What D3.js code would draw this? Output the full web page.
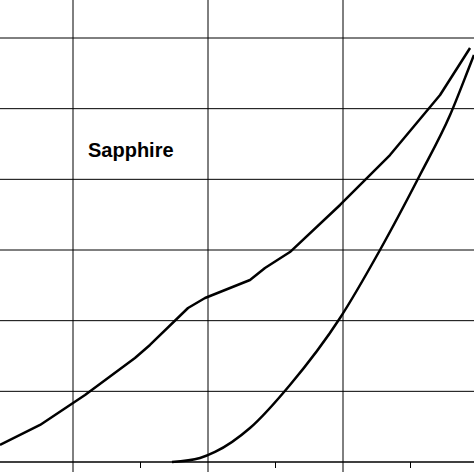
<!DOCTYPE html>
<html>
<head>
<meta charset="utf-8">
<script src="https://cdn.jsdelivr.net/npm/d3@7"></script>
<style>
	body { margin:0; background:#fff; }
	svg { display:block; }
</style>
</head>
<body>
<div id="chart"></div>
<script>
// data (x in axis units, y in axis units)
var loadX = [0.459,0.756,1.089,1.459,1.570,1.852,1.978,2.311,2.422,2.607,2.978,3.348,3.719,3.941];
var loadY = [0.241,0.524,0.948,1.472,1.656,2.179,2.321,2.575,2.745,2.971,3.637,4.344,5.193,5.858];
var unloadX = [1.733,1.941,2.052,2.311,2.607,2.978,3.274,3.570,3.793,3.941,3.970];
var unloadY = [0.000,0.057,0.142,0.481,1.090,2.038,3.000,4.061,4.910,5.618,5.759];
var xGrid = [1,2,3];
var xMinor = [1.5,2.5,3.5];
var yGrid = [1,2,3,4,5,6];

var W = 474, H = 474;
var svg = d3.select('#chart').append('svg').attr('width',W).attr('height',H);

var x = d3.scaleLinear().domain([0,4]).range([-62,478]);
var y = d3.scaleLinear().domain([0,6]).range([462,38]);

// grid
svg.selectAll('.vg').data(xGrid).enter().append('line')
	.attr('x1',function(d){return x(d);}).attr('x2',function(d){return x(d);})
	.attr('y1',0).attr('y2',y(0)).attr('stroke','#000').attr('stroke-width',1);
svg.selectAll('.hg').data(yGrid).enter().append('line')
	.attr('x1',0).attr('x2',W)
	.attr('y1',function(d){return y(d);}).attr('y2',function(d){return y(d);})
	.attr('stroke','#000').attr('stroke-width',1);

// bottom axis
svg.append('line').attr('x1',0).attr('x2',W).attr('y1',y(0)).attr('y2',y(0))
	.attr('stroke','#000').attr('stroke-width',1.5);
svg.selectAll('.bt').data(xGrid).enter().append('line')
	.attr('x1',function(d){return x(d);}).attr('x2',function(d){return x(d);})
	.attr('y1',y(0)).attr('y2',y(0)+10).attr('stroke','#000');
svg.selectAll('.bm').data(xMinor).enter().append('line')
	.attr('x1',function(d){return x(d);}).attr('x2',function(d){return x(d);})
	.attr('y1',y(0)).attr('y2',y(0)+6).attr('stroke','#000');

// curves
var lineLoad = d3.line().x(function(d){return x(d[0]);}).y(function(d){return y(d[1]);});
var lineUnload = d3.line().x(function(d){return x(d[0]);}).y(function(d){return y(d[1]);})
	.curve(d3.curveMonotoneX);
svg.append('path').datum(d3.zip(loadX,loadY)).attr('d',lineLoad)
	.attr('fill','none').attr('stroke','#000').attr('stroke-width',2.5).attr('stroke-linejoin','round');
svg.append('path').datum(d3.zip(unloadX,unloadY)).attr('d',lineUnload)
	.attr('fill','none').attr('stroke','#000').attr('stroke-width',2.5);

svg.append('text').attr('x',88).attr('y',157).text('Sapphire')
	.attr('font-family','Liberation Sans, Arial, sans-serif')
	.attr('font-weight','bold').attr('font-size',20);
</script>
</body>
</html>
